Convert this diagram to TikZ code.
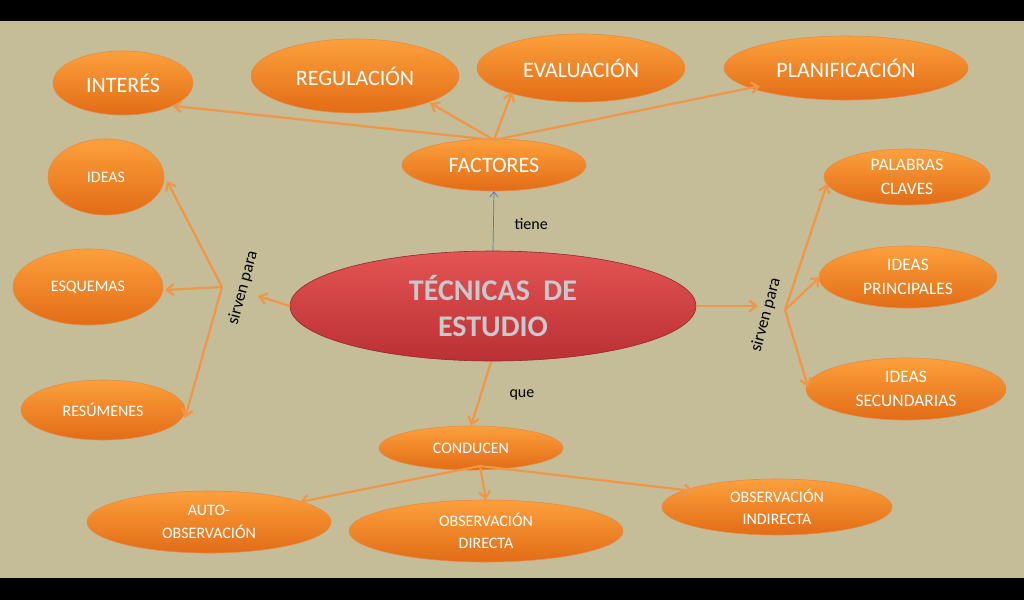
\documentclass[tikz,border=0pt]{standalone}
\usepackage{fontspec}
\setmainfont{Carlito}
\usetikzlibrary{shapes.geometric,arrows.meta}
\definecolor{bg}{RGB}{196,189,151}
\definecolor{otop}{RGB}{252,160,60}
\definecolor{obot}{RGB}{226,108,22}
\definecolor{rtop}{RGB}{228,84,84}
\definecolor{rbot}{RGB}{186,48,52}
\definecolor{ln}{RGB}{240,150,70}
\definecolor{silver}{RGB}{200,200,205}
\tikzset{
 ob/.style={ellipse,inner sep=0pt,top color=otop,bottom color=obot,draw=obot!80!white,line width=0.6pt,text=white,align=center,font=\fontsize{#1}{\dimexpr #1pt*14/10\relax}\selectfont},
 conn/.style={draw=ln,line width=2.2pt,-{Straight Barb[length=7pt,width=11pt]}},
 lab/.style={font=\fontsize{16}{16}\selectfont,text=black}
}
\begin{document}
\begin{tikzpicture}[x=1pt,y=-1pt]
\fill[black] (0,0) rectangle (1024,600);
\fill[bg] (0,21) rectangle (1024,578);
\useasboundingbox (0,0) rectangle (1024,600);
\node[ob=22,minimum width=140,minimum height=64] (int) at (123,83) {INTERÉS};
\node[ob=22,minimum width=208,minimum height=74] (reg) at (355,76) {REGULACIÓN};
\node[ob=22,minimum width=208,minimum height=68] (eva) at (581,68) {EVALUACIÓN};
\node[ob=22,minimum width=244,minimum height=64] (pla) at (846,68) {PLANIFICACIÓN};
\node[ob=22,minimum width=184,minimum height=52] (fac) at (494,165) {FACTORES};
\node[ellipse,inner sep=0pt,minimum width=406,minimum height=110,top color=rtop,bottom color=rbot,draw=rbot!80!black,line width=0.6pt,text=silver,align=center,font=\bfseries\fontsize{30}{36}\selectfont] (tec) at (493,306) {TÉCNICAS\ \ DE\\ESTUDIO};
\node[ob=16,minimum width=116,minimum height=76] (ide) at (106,177) {IDEAS};
\node[ob=16,minimum width=150,minimum height=76] (esq) at (88,287) {ESQUEMAS};
\node[ob=16,minimum width=164,minimum height=60] (res) at (103,410) {RESÚMENES};
\node[ob=17.5,minimum width=166,minimum height=56] (pal) at (907,177) {PALABRAS\\CLAVES};
\node[ob=17.5,minimum width=178,minimum height=62] (ipr) at (908,277) {IDEAS\\PRINCIPALES};
\node[ob=17.5,minimum width=200,minimum height=62] (ise) at (906,389) {IDEAS\\SECUNDARIAS};
\node[ob=16,minimum width=184,minimum height=44] (con) at (471,448) {CONDUCEN};
\node[ob=16,minimum width=244,minimum height=62] (aut) at (209,522) {AUTO-\\OBSERVACIÓN};
\node[ob=16,minimum width=274,minimum height=62] (dir) at (486,531) {OBSERVACIÓN\\DIRECTA};
\node[ob=16,minimum width=230,minimum height=56] (ind) at (777,507) {OBSERVACIÓN\\INDIRECTA};
% factors
\coordinate (ft) at (494,140);
\draw[conn] (ft) -- (int.south east);
\draw[conn] (ft) -- (430,103);
\draw[conn] (ft) -- (512,92);
\draw[conn] (ft) -- (760,86);
\draw[draw={rgb,255:red,80;green,120;blue,180},line width=0.7pt,-{Straight Barb[length=5pt,width=8pt]}] (tec.north) -- (fac.south);
\node[lab,anchor=west] (tiene) at (511,224) {tiene};
% left
\coordinate (lh) at (222,287);
\coordinate (la) at (258,296);
\draw[conn] (tec.west) -- (la);
\draw[conn] (lh) -- (167,181);
\draw[conn] (lh) -- (165,290);
\draw[conn] (lh) -- (185,418);
\node[lab,rotate=75,font=\fontsize{17}{17}\selectfont] (sp1) at (243,288) {sirven para};
% right
\coordinate (rh) at (785,310);
\coordinate (ra) at (758,306);
\draw[conn] (tec.east) -- (ra);
\draw[conn] (rh) -- (827,184);
\draw[conn] (rh) -- (820,277);
\draw[conn] (rh) -- (808,387);
\node[lab,rotate=75,font=\fontsize{17}{17}\selectfont] (sp2) at (766,315) {sirven para};
% down
\draw[conn] (491,362) -- (con.north);
\node[lab,anchor=west] (que) at (506,395) {que};
\coordinate (cb) at (480,466);
\draw[conn] (cb) -- (300,502);
\draw[conn] (cb) -- (486,500);
\draw[conn] (cb) -- (693,491);
\end{tikzpicture}
\end{document}
